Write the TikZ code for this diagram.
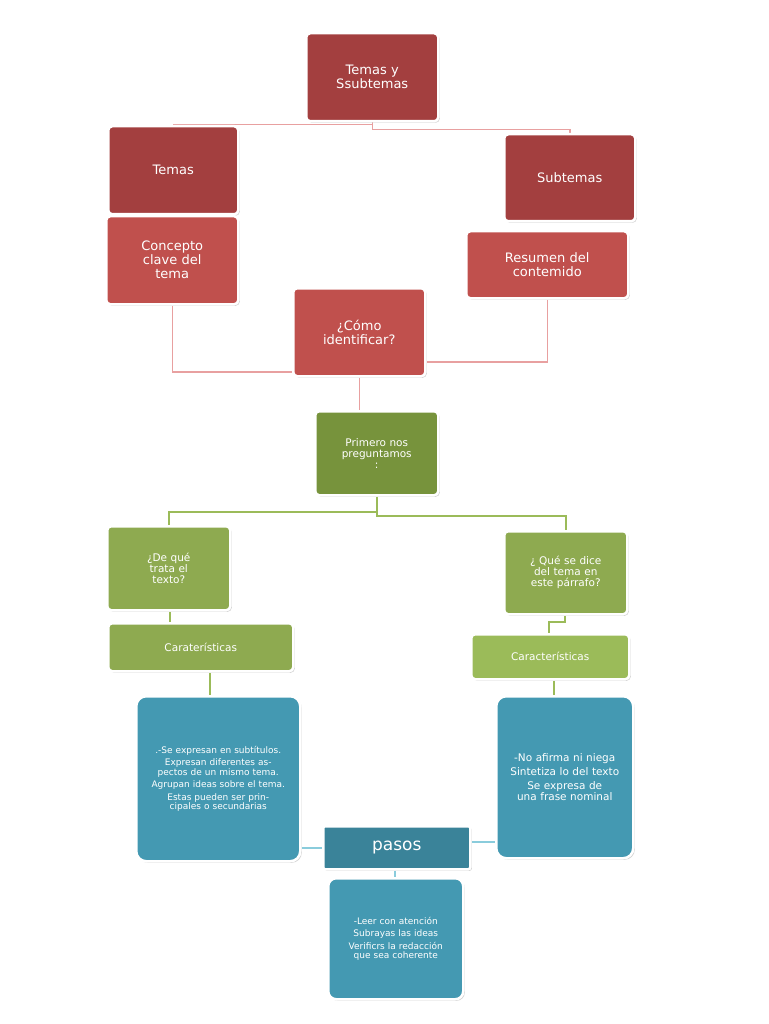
\documentclass[tikz,border=0pt]{standalone}
\usepackage{fontspec}
\setmainfont{DejaVu Sans}
\usetikzlibrary{shadows,backgrounds}
\definecolor{rdark}{HTML}{A33F3F}
\definecolor{rmid}{HTML}{C0504D}
\definecolor{gdark}{HTML}{77933C}
\definecolor{gmid}{HTML}{8EAA50}
\definecolor{glight}{HTML}{9BBB59}
\definecolor{bmid}{HTML}{4499B2}
\definecolor{bdark}{HTML}{3A8399}
\definecolor{lr}{HTML}{E8A0A0}
\definecolor{lg}{HTML}{9BBB59}
\definecolor{lb}{HTML}{8ACCDC}
\begin{document}
\begin{tikzpicture}[x=1pt,y=-1pt,
 box/.style={draw=white,line width=2.5pt,rounded corners=4pt,text=white,align=center,inner sep=2pt,
   drop shadow={shadow xshift=1.5pt,shadow yshift=-1.5pt,opacity=0.35}},
 bx/.style args={#1/#2/#3/#4}{box,minimum width=#3-#1,minimum height=#4-#2,text width=#3-#1-10,anchor=north west,at={(#1,#2)}},
 cr/.style={draw=lr,line width=1.5pt},
 cg/.style={draw=lg,line width=2pt},
 cb/.style={draw=lb,line width=2.5pt},
 big/.style={font=\fontsize{13}{14}\selectfont},
 sm/.style={font=\fontsize{9}{9.5}\selectfont},
 md/.style={font=\fontsize{10.5}{11}\selectfont}]
\useasboundingbox (0,0) rectangle (768,1024);
% red
\node[bx=305/32/437/120,fill=rdark,big] (ts) {Temas y\\Ssubtemas};
\node[bx=107/125/237/213,fill=rdark,big] (t) {Temas};
\node[bx=105/215/237/303,fill=rmid,big] (c) {Concepto\\clave del\\tema};
\node[bx=503/133/634/220,fill=rdark,big] (s) {Subtemas};
\node[bx=465/230/627/297,fill=rmid,big] (r) {Resumen del\\contemido};
\node[bx=292/287/424/375,fill=rmid,big] (q) {¿Cómo\\identificar?};
% green
\node[bx=314/410/437/494,fill=gdark,md] (p) {Primero nos\\preguntamos\\:};
\node[bx=106/525/229/609,fill=gmid,md] (d) {¿De qué\\trata el\\texto?};
\node[bx=503/530/626/613,fill=gmid,md] (e) {¿ Qué se dice\\del tema en\\este párrafo?};
\node[bx=107/622/292/670,fill=gmid,md] (k1) {Caraterísticas};
\node[bx=470/633/628/678,fill=glight,md] (k2) {Características};
% blue
\node[bx=135/695/299/860,fill=bmid,sm,rounded corners=10pt] (l) {.-Se expresan en subtítulos.\\[3pt]Expresan diferentes aspectos de un mismo tema.\\[3pt]Agrupan ideas sobre el tema.\\[3pt]Estas pueden ser principales o secundarias};
\node[bx=495/695/632/857,fill=bmid,md,rounded corners=10pt] (rr) {-No afirma ni niega\\[3pt]Sintetiza lo del texto\\[3pt]Se expresa de una frase nominal};
\node[bx=322/825/469/868,fill=bdark,font=\fontsize{17}{18}\selectfont,rounded corners=2pt] (ps) {pasos};
\node[bx=327/877/462/998,fill=bmid,sm,rounded corners=8pt] (bt) {-Leer con atención\\[3pt]Subrayas las ideas\\[3pt]Verificrs la redacción que sea coherente};
\begin{pgfonlayer}{background}
\draw[cr] (ts.south) -- ++(0,2) -| (t.north);
\draw[cr] (ts.south) -- ++(0,7) -| (s.north);
\draw[cr] (c.south) |- (q.west|-0,372);
\draw[cr] (r.south) |- (q.east|-0,362);
\draw[cr] (q.south) -- (p.north-|q.south);
\draw[cg] (p.south) -- ++(0,15) -| (d.north);
\draw[cg] (p.south) -- ++(0,19) -| (e.north);
\draw[cg] (d.south-|170,0) -- (k1.north-|170,0);
\draw[cg] (e.south-|565,0) -- (565,622) -- (549,622) -- (k2.north-|549,0);
\draw[cg] (k1.south-|210,0) -- (l.north-|210,0);
\draw[cg] (k2.south-|554,0) -- (rr.north-|554,0);
\draw[cb] (l.east|-0,848) -- (ps.west|-0,848);
\draw[cb] (ps.east|-0,842) -- (rr.west|-0,842);
\draw[cb] (ps.south-|395,0) -- (bt.north-|395,0);
\end{pgfonlayer}
\end{tikzpicture}
\end{document}
